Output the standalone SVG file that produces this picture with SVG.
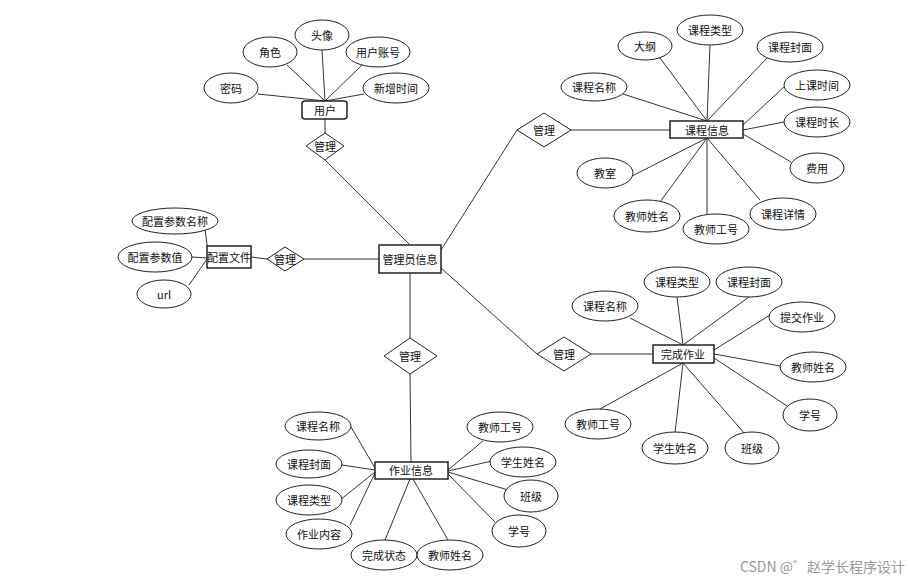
<svg xmlns="http://www.w3.org/2000/svg" width="909" height="582" viewBox="0 0 909 582">
<style>
.e{fill:#fff;stroke:#222;stroke-width:1}
.r{fill:#fff;stroke:#222;stroke-width:1.5}
.d{fill:#fff;stroke:#222;stroke-width:1}
.c line{stroke:#333;stroke-width:1}
text{font-family:"Noto Sans CJK SC","Liberation Sans",sans-serif;font-size:11px;fill:#111;text-anchor:middle;dominant-baseline:central}
.wm{font-size:14px;fill:#999;text-anchor:end}
</style>
<rect width="909" height="582" fill="#fff"/>
<g class="c" id="connectors">
<line x1="258" y1="94" x2="325" y2="101"/><line x1="287" y1="65" x2="325" y2="101"/><line x1="322" y1="50" x2="325" y2="101"/><line x1="362" y1="65" x2="325" y2="101"/><line x1="364" y1="94" x2="325" y2="101"/>
<line x1="325" y1="119" x2="325" y2="133"/><line x1="325" y1="160" x2="410" y2="245"/>
<line x1="251" y1="257" x2="267" y2="259"/><line x1="304" y1="259" x2="379" y2="259"/>
<line x1="205" y1="229" x2="208" y2="252"/><line x1="192" y1="257" x2="207" y2="258"/><line x1="189" y1="285" x2="207" y2="259"/>
<line x1="441" y1="250" x2="517" y2="130"/><line x1="571" y1="130" x2="670" y2="130"/>
<line x1="660" y1="58" x2="707" y2="121"/><line x1="710" y1="45" x2="707" y2="121"/><line x1="767" y1="58" x2="707" y2="121"/><line x1="623" y1="94" x2="707" y2="121"/>
<line x1="785" y1="86" x2="743" y2="125"/><line x1="784" y1="122" x2="743" y2="130"/><line x1="791" y1="162" x2="743" y2="134"/>
<line x1="632" y1="176" x2="707" y2="138"/><line x1="660" y1="202" x2="707" y2="138"/><line x1="707" y1="214" x2="707" y2="138"/><line x1="760" y1="200" x2="707" y2="138"/>
<line x1="441" y1="268" x2="537" y2="354"/><line x1="591" y1="354" x2="653" y2="354"/>
<line x1="630" y1="318" x2="683" y2="345"/><line x1="677" y1="297" x2="683" y2="345"/><line x1="749" y1="297" x2="683" y2="345"/>
<line x1="770" y1="315" x2="714" y2="350"/><line x1="780" y1="366" x2="714" y2="354"/><line x1="787" y1="406" x2="714" y2="358"/>
<line x1="745" y1="434" x2="683" y2="363"/><line x1="675" y1="433" x2="683" y2="363"/><line x1="600" y1="409" x2="683" y2="363"/>
<line x1="410" y1="273" x2="410" y2="338"/><line x1="410" y1="374" x2="411" y2="462"/>
<line x1="351" y1="427" x2="375" y2="468"/><line x1="342" y1="465" x2="375" y2="470"/><line x1="340" y1="500" x2="375" y2="472"/><line x1="350" y1="525" x2="375" y2="473"/>
<line x1="385" y1="540" x2="410" y2="479"/><line x1="448" y1="540" x2="413" y2="479"/>
<line x1="483" y1="441" x2="448" y2="470"/><line x1="492" y1="461" x2="448" y2="471"/><line x1="508" y1="490" x2="448" y2="472"/><line x1="495" y1="522" x2="448" y2="474"/>
</g>
<g id="user"><rect class="r" x="302" y="101" width="45" height="18" rx="3"/><text x="325" y="110">用户</text></g>
<g id="u1"><ellipse class="e" cx="231" cy="88" rx="27" ry="15"/><text x="231" y="88">密码</text></g>
<g id="u2"><ellipse class="e" cx="270" cy="52" rx="27" ry="15"/><text x="270" y="52">角色</text></g>
<g id="u3"><ellipse class="e" cx="322" cy="35" rx="27" ry="15"/><text x="322" y="35">头像</text></g>
<g id="u4"><ellipse class="e" cx="378" cy="52" rx="32" ry="15"/><text x="378" y="52">用户账号</text></g>
<g id="u5"><ellipse class="e" cx="396" cy="88" rx="33" ry="15"/><text x="396" y="88">新增时间</text></g>
<g id="dm1"><polygon class="d" points="306,146 325,133 344,146 325,160"/><text x="325" y="146">管理</text></g>
<g id="admin"><rect class="r" x="379" y="245" width="62" height="28"/><text x="410" y="259">管理员信息</text></g>
<g id="config"><rect class="r" x="207" y="246" width="44" height="22"/><text x="229" y="257">配置文件</text></g>
<g id="dm2"><polygon class="d" points="267,259 285,247 304,259 285,271"/><text x="285" y="259">管理</text></g>
<g id="c1"><ellipse class="e" cx="175" cy="221" rx="43" ry="13"/><text x="175" y="221">配置参数名称</text></g>
<g id="c2"><ellipse class="e" cx="155" cy="257" rx="37" ry="15"/><text x="155" y="257">配置参数值</text></g>
<g id="c3"><ellipse class="e" cx="164" cy="294" rx="27" ry="14"/><text x="164" y="294">url</text></g>
<g id="dm3"><polygon class="d" points="517,130 544,113 571,130 544,147"/><text x="544" y="130">管理</text></g>
<g id="course"><rect class="r" x="670" y="121" width="73" height="17"/><text x="707" y="130">课程信息</text></g>
<g id="k1"><ellipse class="e" cx="645" cy="46" rx="27" ry="14"/><text x="645" y="46">大纲</text></g>
<g id="k2"><ellipse class="e" cx="710" cy="30" rx="33" ry="15"/><text x="710" y="30">课程类型</text></g>
<g id="k3"><ellipse class="e" cx="790" cy="47" rx="33" ry="15"/><text x="790" y="47">课程封面</text></g>
<g id="k4"><ellipse class="e" cx="594" cy="87" rx="33" ry="14"/><text x="594" y="87">课程名称</text></g>
<g id="k5"><ellipse class="e" cx="817" cy="85" rx="33" ry="15"/><text x="817" y="85">上课时间</text></g>
<g id="k6"><ellipse class="e" cx="817" cy="122" rx="33" ry="15"/><text x="817" y="122">课程时长</text></g>
<g id="k7"><ellipse class="e" cx="817" cy="168" rx="27" ry="15"/><text x="817" y="168">费用</text></g>
<g id="k8"><ellipse class="e" cx="605" cy="173" rx="28" ry="15"/><text x="605" y="173">教室</text></g>
<g id="k9"><ellipse class="e" cx="647" cy="216" rx="33" ry="16"/><text x="647" y="216">教师姓名</text></g>
<g id="k10"><ellipse class="e" cx="716" cy="229" rx="33" ry="15"/><text x="716" y="229">教师工号</text></g>
<g id="k11"><ellipse class="e" cx="783" cy="214" rx="33" ry="16"/><text x="783" y="214">课程详情</text></g>
<g id="dm4"><polygon class="d" points="537,354 564,337 591,354 564,371"/><text x="564" y="354">管理</text></g>
<g id="done"><rect class="r" x="653" y="345" width="61" height="18"/><text x="683" y="354">完成作业</text></g>
<g id="f1"><ellipse class="e" cx="605" cy="306" rx="33" ry="15"/><text x="605" y="306">课程名称</text></g>
<g id="f2"><ellipse class="e" cx="677" cy="282" rx="33" ry="15"/><text x="677" y="282">课程类型</text></g>
<g id="f3"><ellipse class="e" cx="749" cy="282" rx="33" ry="15"/><text x="749" y="282">课程封面</text></g>
<g id="f4"><ellipse class="e" cx="802" cy="317" rx="33" ry="15"/><text x="802" y="317">提交作业</text></g>
<g id="f5"><ellipse class="e" cx="813" cy="367" rx="33" ry="15"/><text x="813" y="367">教师姓名</text></g>
<g id="f6"><ellipse class="e" cx="810" cy="415" rx="27" ry="16"/><text x="810" y="415">学号</text></g>
<g id="f7"><ellipse class="e" cx="752" cy="448" rx="27" ry="16"/><text x="752" y="448">班级</text></g>
<g id="f8"><ellipse class="e" cx="675" cy="448" rx="33" ry="16"/><text x="675" y="448">学生姓名</text></g>
<g id="f9"><ellipse class="e" cx="598" cy="424" rx="33" ry="15"/><text x="598" y="424">教师工号</text></g>
<g id="dm5"><polygon class="d" points="384,356 410,338 437,356 410,374"/><text x="410" y="356">管理</text></g>
<g id="hw"><rect class="r" x="375" y="462" width="73" height="17"/><text x="411" y="470">作业信息</text></g>
<g id="h1"><ellipse class="e" cx="318" cy="426" rx="33" ry="14"/><text x="318" y="426">课程名称</text></g>
<g id="h2"><ellipse class="e" cx="309" cy="464" rx="33" ry="14"/><text x="309" y="464">课程封面</text></g>
<g id="h3"><ellipse class="e" cx="309" cy="500" rx="33" ry="15"/><text x="309" y="500">课程类型</text></g>
<g id="h4"><ellipse class="e" cx="319" cy="534" rx="33" ry="15"/><text x="319" y="534">作业内容</text></g>
<g id="h5"><ellipse class="e" cx="384" cy="555" rx="33" ry="15"/><text x="384" y="555">完成状态</text></g>
<g id="h6"><ellipse class="e" cx="450" cy="555" rx="33" ry="15"/><text x="450" y="555">教师姓名</text></g>
<g id="h7"><ellipse class="e" cx="500" cy="427" rx="33" ry="15"/><text x="500" y="427">教师工号</text></g>
<g id="h8"><ellipse class="e" cx="523" cy="462" rx="33" ry="15"/><text x="523" y="462">学生姓名</text></g>
<g id="h9"><ellipse class="e" cx="531" cy="496" rx="27" ry="16"/><text x="531" y="496">班级</text></g>
<g id="h10"><ellipse class="e" cx="519" cy="531" rx="27" ry="16"/><text x="519" y="531">学号</text></g>
<text class="wm" x="905" y="566">CSDN @゛赵学长程序设计</text>
</svg>
